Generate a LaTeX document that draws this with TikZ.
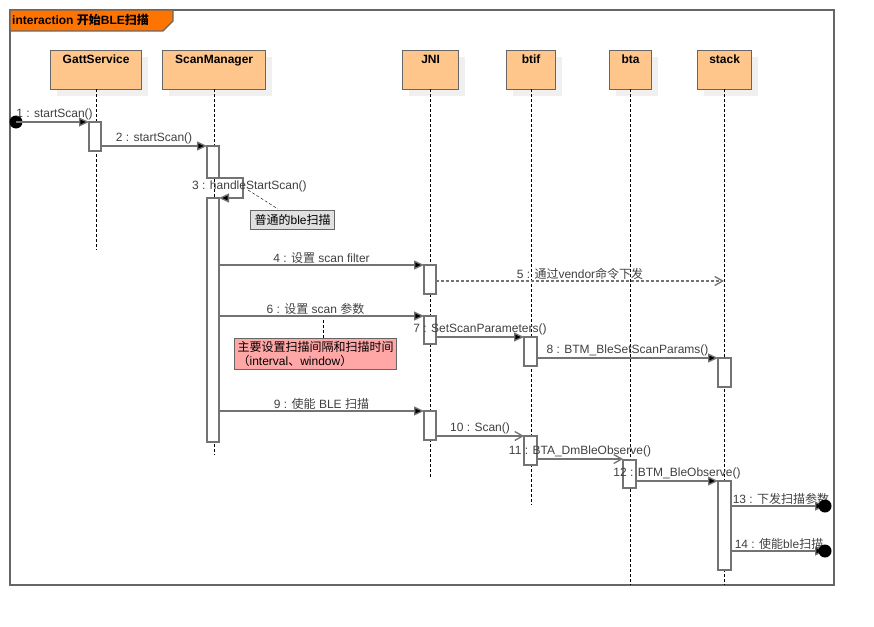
\documentclass[tikz,border=0pt]{standalone}
\usetikzlibrary{arrows.meta}
\usepackage{fontspec}
\setmainfont{Liberation Sans}
\newfontfamily\cjk{Noto Sans CJK SC}
\newcommand{\zh}[1]{{\cjk #1}}
\begin{document}
\begin{tikzpicture}[x=1pt,y=-1pt,
  every node/.style={font=\fontsize{12}{14}\selectfont},
  head/.style={draw=black!60,line width=1.2pt,fill=orange!45!white,anchor=north west,minimum height=39pt,inner sep=0pt},
  life/.style={densely dashed,black,line width=0.6pt},
  act/.style={draw=black!55,line width=1.3pt,fill=white},
  msg/.style={draw=black!55,line width=1.3pt,-{Triangle[length=10pt,width=9pt,fill=black]}},
  amsg/.style={draw=black!55,line width=1.3pt,-{Straight Barb[length=8pt,width=9pt]}},
  lab/.style={text=black!75,inner sep=1pt,anchor=south},
  note/.style={draw=black!60,line width=1.2pt,inner sep=4pt,anchor=north west}]
\useasboundingbox (0,0) rectangle (874,626);
% frame
\draw[black!60,line width=1.2pt] (10,10) rectangle (834,585);
\draw[black!60,line width=1.2pt,fill=orange!90!red] (10,10) -- (173,10) -- (173,21) -- (163,31) -- (10,31) -- cycle;
\node[anchor=west,font=\fontsize{12}{14}\selectfont\bfseries,inner sep=1pt] (title) at (11,20) {interaction \zh{开始}BLE\zh{扫描}};
% heads
\foreach \n/\x/\w/\t in {g/50/91/GattService,s/162/103/ScanManager,j/402/56/JNI,b/506/49/btif,a/609/42/bta,k/697/54/stack}{
  \fill[black!6] (\x+7,57) rectangle (\x+\w+7,96);
  \node[head,minimum width=\w pt,label={[anchor=north,yshift=-4pt,font=\fontsize{12}{14}\selectfont\bfseries,inner sep=1pt]north:\t}] (\n) at (\x,50) {};
}
% lifelines
\draw[life] (96,89) -- (96,250);
\draw[life] (214,89) -- (214,455);
\draw[life] (430,89) -- (430,478);
\draw[life] (531,89) -- (531,505);
\draw[life] (630,89) -- (630,585);
\draw[life] (724,89) -- (724,585);
% activations
\draw[act] (89,122) rectangle (101,151);
\draw[act] (207,146) rectangle (219,178);
\draw[act] (207,198) rectangle (219,442);
\draw[act] (424,265) rectangle (436,294);
\draw[act] (424,316) rectangle (436,344);
\draw[act] (424,411) rectangle (436,440);
\draw[act] (524,337) rectangle (537,366);
\draw[act] (524,436) rectangle (537,465);
\draw[act] (623,460) rectangle (636,488);
\draw[act] (718,358) rectangle (731,387);
\draw[act] (718,481) rectangle (731,570);
% messages
\coordinate (m1s) at (16,122);
\fill (m1s) circle (6.5pt);
\draw[msg] (m1s) -- (89,122) node[lab,midway,xshift=2pt] (l1) {1 : startScan()};
\draw[msg] (101,146) -- (207,146) node[lab,midway] (l2) {2 : startScan()};
\draw[msg] (219,178) -- (243,178) -- (243,198) -- (219,198);
\node[lab,anchor=west] (l3) at (191,186) {3 : handleStartScan()};
\node[note,fill=black!12] (n1) at (250,210) {\zh{普通的}ble\zh{扫描}};
\draw[densely dashed,black] (248,190) -- (278,209);
\draw[msg] (219,265) -- (424,265) node[lab,midway] (l4) {4 : \zh{设置} scan filter};
\draw[amsg,densely dashed] (436,281) -- (724,281) node[lab,midway] (l5) {5 : \zh{通过}vendor\zh{命令下发}};
\draw[msg] (219,316) -- (424,316) node[lab,midway,xshift=-6pt] (l6) {6 : \zh{设置} scan \zh{参数}};
\draw[msg] (436,337) -- (524,337) node[lab,midway] (l7) {7 : SetScanParameters()};
\node[note,fill=red!35,align=left,inner sep=3pt] (n2) at (234,338) {\zh{主要设置扫描间隔和扫描时间}\\\zh{（}interval\zh{、}window\zh{）}};
\draw[densely dashed,black] (323,338) -- (323,320);
\draw[msg] (537,358) -- (718,358) node[lab,midway] (l8) {8 : BTM\_BleSetScanParams()};
\draw[msg] (219,411) -- (424,411) node[lab,midway] (l9) {9 : \zh{使能} BLE \zh{扫描}};
\draw[amsg] (436,436) -- (524,436) node[lab,midway] (l10) {10 : Scan()};
\draw[amsg] (537,459) -- (623,459) node[lab,midway] (l11) {11 : BTA\_DmBleObserve()};
\draw[msg] (636,481) -- (718,481) node[lab,midway] (l12) {12 : BTM\_BleObserve()};
\coordinate (e13) at (825,506);
\coordinate (e14) at (825,551);
\draw[msg] (731,506) -- (e13) node[lab,midway,xshift=3pt] (l13) {13 : \zh{下发扫描参数}};
\fill (e13) circle (6.5pt);
\draw[msg] (731,551) -- (e14) node[lab,midway,xshift=1pt] (l14) {14 : \zh{使能}ble\zh{扫描}};
\fill (e14) circle (6.5pt);
\end{tikzpicture}
\end{document}
